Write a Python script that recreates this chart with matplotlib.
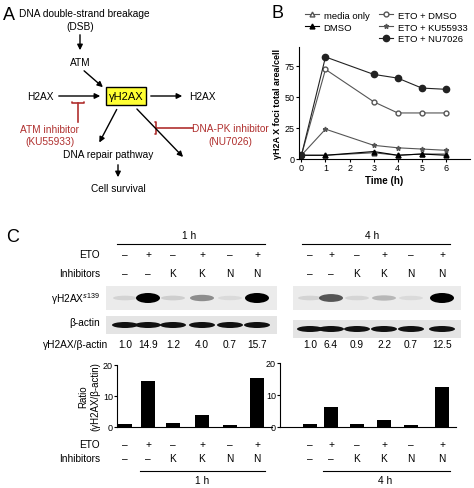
import matplotlib.pyplot as plt
from matplotlib.patches import Rectangle, Ellipse
import numpy as np

plt.rcParams['font.family'] = ['Liberation Sans', 'DejaVu Sans']
plt.rcParams['mathtext.fontset'] = 'custom'
plt.rcParams['mathtext.rm'] = 'Liberation Sans'

W, H = 474, 489

# panel B data
time = [0, 1, 3, 4, 5, 6]
media_only = [3, 3, 5, 3, 4, 4]
dmso = [3, 3, 6, 3, 4, 3]
eto_dmso = [3, 72, 46, 37, 37, 37]
eto_ku = [3, 24, 11, 9, 8, 7]
eto_nu = [3, 82, 68, 65, 57, 56]

# panel C data
eto_signs = ["\u2013", "+", "\u2013", "+", "\u2013", "+"]
inhib = ["\u2013", "\u2013", "K", "K", "N", "N"]
ratio_1h = [1.0, 14.9, 1.2, 4.0, 0.7, 15.7]
ratio_4h = [1.0, 6.4, 0.9, 2.2, 0.7, 12.5]
cols_1h = [125, 148, 173, 202, 230, 257]
cols_4h = [310, 331, 357, 384, 411, 442]

red = "#b0302f"
fig = plt.figure(figsize=(W / 100, H / 100), dpi=100)
ov = fig.add_axes([0, 0, 1, 1])
ov.set_xlim(0, W)
ov.set_ylim(H, 0)
ov.axis("off")
fs = 7.3

def ax_px(x0, y0, x1, y1):
    return fig.add_axes([x0 / W, 1 - y1 / H, (x1 - x0) / W, (y1 - y0) / H])

def arrow(x0, y0, x1, y1, c="k"):
    ov.annotate("", xy=(x1, y1), xytext=(x0, y0),
                arrowprops=dict(arrowstyle="-|>", color=c, lw=1, mutation_scale=8))

def blunt(x0, y0, x1, y1):
    ov.annotate("", xy=(x1, y1), xytext=(x0, y0),
                arrowprops=dict(arrowstyle="-[", color=red, lw=1.2, mutation_scale=4))

# ---- panel A ----
ov.text(3, 16, "A", fontsize=13, va="center")
ov.text(84, 14, "DNA double-strand breakage", fontsize=fs, ha="center", va="center")
ov.text(80, 27, "(DSB)", fontsize=fs, ha="center", va="center")
arrow(80, 33, 80, 54)
ov.text(80, 63, "ATM", fontsize=fs, ha="center", va="center")
arrow(82, 70, 105, 90)
ov.text(40, 97, "H2AX", fontsize=fs, ha="center", va="center")
arrow(56, 97, 103, 97)
ov.add_patch(Rectangle((106, 88), 40, 18, fc="#ffff33", ec="k", lw=1))
ov.text(126, 97, "\u03b3H2AX", fontsize=8, ha="center", va="center")
arrow(148, 97, 185, 97)
ov.text(202, 97, "H2AX", fontsize=fs, ha="center", va="center")
blunt(78, 126, 78, 101)
ov.text(50, 130, "ATM inhibitor", fontsize=fs, color=red, ha="center", va="center")
ov.text(50, 142, "(KU55933)", fontsize=fs, color=red, ha="center", va="center")
blunt(196, 129, 153, 129)
ov.text(230, 129, "DNA-PK inhibitor", fontsize=fs, color=red, ha="center", va="center")
ov.text(230, 142, "(NU7026)", fontsize=fs, color=red, ha="center", va="center")
arrow(118, 108, 98, 146)
arrow(135, 108, 185, 160)
ov.text(108, 155, "DNA repair pathway", fontsize=fs, ha="center", va="center")
arrow(118, 163, 118, 181)
ov.text(118, 189, "Cell survival", fontsize=fs, ha="center", va="center")

# ---- panel B ----
ov.text(272, 14, "B", fontsize=13, va="center")
axb = ax_px(299, 48, 470, 160)
l1, = axb.plot(time, media_only, "-^", color="#555", mfc="white", ms=3.5, lw=0.8)
l2, = axb.plot(time, dmso, "-^", color="k", ms=3.5, lw=0.8)
l3, = axb.plot(time, eto_dmso, "-o", color="#555", mfc="white", ms=3.5, lw=0.8)
l4, = axb.plot(time, eto_ku, "-*", color="#555", ms=3.5, lw=0.8)
l5, = axb.plot(time, eto_nu, "-o", color="#222", ms=4.5, lw=0.8)
axb.set_xlim(-0.1, 7)
axb.set_ylim(0, 90)
axb.set_xticks(range(7))
axb.set_yticks([0, 25, 50, 75])
axb.tick_params(labelsize=6.5, length=2, pad=1)
for s in ["top", "right"]:
    axb.spines[s].set_visible(False)
axb.set_xlabel("Time (h)", fontsize=7, fontweight="bold", labelpad=2)
axb.set_ylabel("\u03b3H2A X foci total area/cell", fontsize=6.5, fontweight="bold", labelpad=2)
leg_kw = dict(loc="upper left", fontsize=6.8, frameon=False, handlelength=1.5,
              labelspacing=0.3, borderpad=0, handletextpad=0.5)
fig.legend([l1, l2], ["media only", "DMSO"], bbox_to_anchor=(300 / W, 1 - 7 / H), **leg_kw)
fig.legend([l3, l4, l5], ["ETO + DMSO", "ETO + KU55933", "ETO + NU7026"],
           bbox_to_anchor=(374 / W, 1 - 7 / H), **leg_kw)

# ---- panel C blots ----
ov.text(6, 238, "C", fontsize=13, va="center")
for cols, lab in [(cols_1h, "1 h"), (cols_4h, "4 h")]:
    ov.plot([cols[0] - 8, cols[-1] + 8], [245, 245], color="k", lw=0.8)
    ov.text(np.mean(cols), 236, lab, fontsize=fs, ha="center", va="center")
ov.text(100, 255, "ETO", fontsize=fs, ha="right", va="center")
ov.text(100, 274, "Inhibitors", fontsize=fs, ha="right", va="center")
ov.text(100, 299, "\u03b3H2AX$^{s139}$", fontsize=fs, ha="right", va="center")
ov.text(100, 323, "\u03b2-actin", fontsize=fs, ha="right", va="center")
ov.text(108, 345, "\u03b3H2AX/\u03b2-actin", fontsize=fs, ha="right", va="center")
for cols, ratios, x0, x1, gy, by in [(cols_1h, ratio_1h, 106, 277, 287, 317),
                                      (cols_4h, ratio_4h, 293, 461, 287, 321)]:
    ov.add_patch(Rectangle((x0, gy), x1 - x0, 24, fc="#ebebeb", ec="none"))
    ov.add_patch(Rectangle((x0, by), x1 - x0, 18, fc="#e4e4e4", ec="none"))
    for c, e, i, r in zip(cols, eto_signs, inhib, ratios):
        ov.text(c, 255, e, fontsize=fs, ha="center", va="center")
        ov.text(c, 274, i, fontsize=fs, ha="center", va="center")
        ov.text(c, 345, f"{r:.1f}", fontsize=fs, ha="center", va="center")
        a = min(1.0, r / 10)
        ov.add_patch(Ellipse((c, gy + 12), 24, 4 + 6 * a, fc="k", alpha=max(0.05, a), ec="none"))
        ov.add_patch(Ellipse((c, by + 9), 26, 6, fc="#111", ec="none"))

# ---- panel C bar charts ----
for cols, ratios, x0, x1, y0, lab, ylab in [(cols_1h, ratio_1h, 117, 272, 366, "1 h", True),
                                           (cols_4h, ratio_4h, 280, 456, 364, "4 h", False)]:
    ax = ax_px(x0, y0, x1, 428)
    ax.bar(cols, ratios, width=14, color="k")
    ax.set_xlim(x0, x1)
    ax.set_ylim(0, 20)
    ax.set_yticks([0, 10, 20])
    ax.set_xticks([])
    ax.tick_params(labelsize=6.5, length=2, pad=1)
    for s in ["top", "right"]:
        ax.spines[s].set_visible(False)
    if ylab:
        ax.set_ylabel("Ratio\n(\u03b3H2AX/\u03b2-actin)", fontsize=7, labelpad=2)
    for c, e, i in zip(cols, eto_signs, inhib):
        ov.text(c, 445, e, fontsize=fs, ha="center", va="center")
        ov.text(c, 459, i, fontsize=fs, ha="center", va="center")
    ov.plot([cols[1] - 8, cols[-1] + 8], [472, 472], color="k", lw=0.8)
    ov.text(np.mean(cols[1:]), 481, lab, fontsize=fs, ha="center", va="center")
ov.text(100, 445, "ETO", fontsize=fs, ha="right", va="center")
ov.text(100, 459, "Inhibitors", fontsize=fs, ha="right", va="center")

fig.savefig("out.png", dpi=100)
